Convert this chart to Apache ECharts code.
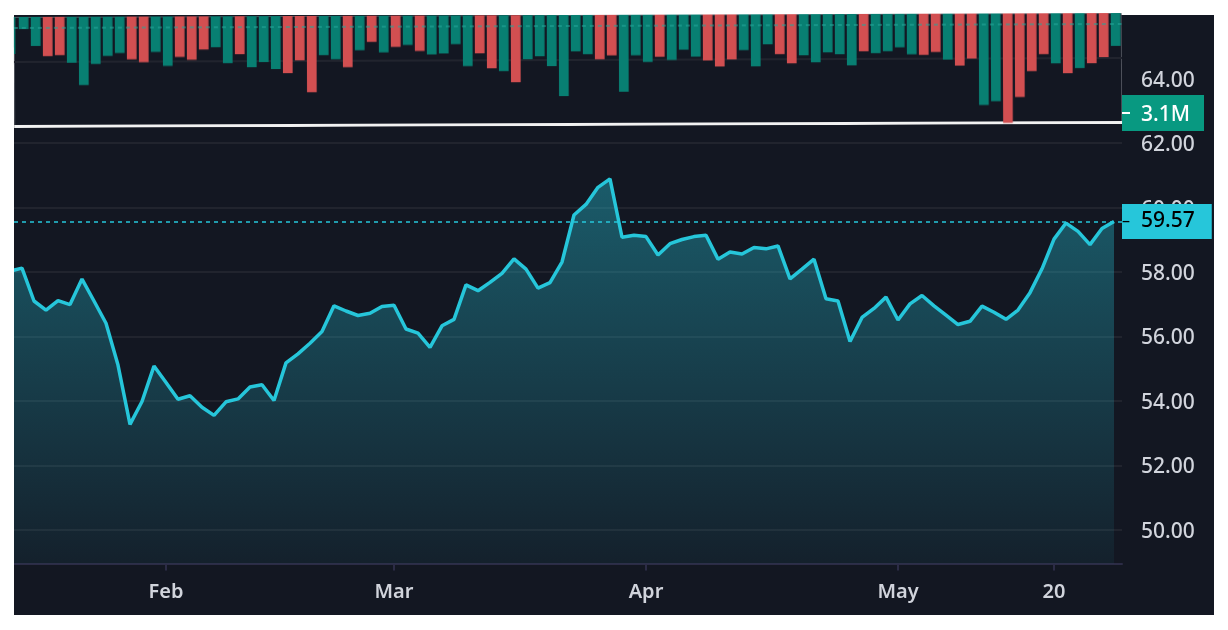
<!DOCTYPE html>
<html>
<head>
<meta charset="utf-8">
<style>
  html, body { margin: 0; padding: 0; background: #fff; }
  #main { position: absolute; left: 14px; top: 15px; width: 1200px; height: 600px; }
  /* the volume pane sits slightly tilted on top of the price pane */
  #vol { position: absolute; left: 14px; top: 15px; width: 1108px; height: 111px; transform: rotate(-0.207deg); }
</style>
</head>
<body>
<div id="main"></div>
<div id="vol"></div>
<script src="https://cdn.jsdelivr.net/npm/echarts@6/dist/echarts.min.js"></script>
<script>
var prices = [58.03,58.12,57.10,56.82,57.11,56.99,57.78,57.10,56.41,55.11,53.27,53.98,55.08,54.57,54.05,54.16,53.80,53.55,53.97,54.06,54.43,54.50,54.01,55.18,55.46,55.79,56.15,56.95,56.79,56.65,56.72,56.93,56.97,56.23,56.10,55.66,56.33,56.53,57.60,57.42,57.68,57.96,58.41,58.09,57.50,57.67,58.31,59.77,60.10,60.63,60.89,59.08,59.14,59.10,58.53,58.88,59.01,59.10,59.14,58.40,58.62,58.56,58.76,58.72,58.81,57.79,58.09,58.40,57.17,57.10,55.84,56.59,56.87,57.22,56.51,57.01,57.27,56.95,56.66,56.37,56.47,56.94,56.75,56.53,56.82,57.36,58.10,59.02,59.52,59.26,58.85,59.35,59.57];
// volume in millions, bars hang from the top of the pane
var volumes = [0.38,0.91,1.23,1.20,1.44,2.14,1.48,1.23,1.14,1.34,1.43,1.11,1.55,1.27,1.36,1.04,0.97,1.47,1.19,1.60,1.44,1.66,1.79,1.39,2.39,1.23,1.36,1.61,1.08,0.82,1.15,0.98,0.92,1.11,1.22,1.19,0.90,1.59,1.19,1.66,1.75,2.10,1.38,1.29,1.60,2.54,1.14,1.23,1.39,1.27,2.41,1.27,1.48,1.32,1.42,1.10,1.32,1.44,1.63,1.41,1.12,1.63,0.94,1.25,1.54,1.29,1.51,1.20,1.26,1.61,1.17,1.23,1.17,1.05,1.27,1.29,1.20,1.44,1.63,1.41,2.87,2.75,3.43,2.62,1.81,1.28,1.57,1.88,1.72,1.57,1.38,1.03];
var redBars = [2,3,9,10,13,14,15,18,22,23,24,27,29,31,33,38,39,41,48,49,53,57,58,59,63,64,70,75,76,78,79,82,83,84,85,87,89,90];
// the sliver of a bar cut off by the left edge of the pane
var edgeGap = [2.19];
var edgeBar = [1.16];
var priceTicks = [50,52,54,56,58,60,62,64];
var gridTicks = [50,52,54,56,58,60,62];
var timeTicks = [13,32,53,74,87];
var timeLabels = ["Feb","Mar","Apr","May","20"];
var lastPrice = 59.57;
var lastVolume = "3.1M";
var volGuide = 0.35;
var volGrid = [1.41];

var FONT = '"Noto Sans", sans-serif';
var BG = "#131722";
var CYAN = "#26C6DA";
var TEAL = "#087f72";
var RED = "#d24f51";

var mainChart = echarts.init(document.getElementById("main"));
mainChart.setOption({
  animation: false,
  backgroundColor: BG,
  textStyle: { fontFamily: FONT },
  grid: { left: 0, top: 0, width: 1108, height: 548.5 },
  xAxis: {
    type: "value", min: 1 / 3, max: 92.667,
    splitLine: { show: false },
    axisLine: { onZero: false, lineStyle: { color: "#2c2c46", width: 2 } },
    axisTick: { customValues: timeTicks, length: 7, lineStyle: { color: "#2c2c46", width: 2 } },
    axisLabel: {
      customValues: timeTicks, margin: 19, fontSize: 20, fontFamily: FONT, color: "#d1d4dc",
      fontWeight: 600,
      formatter: function (v) { return timeLabels[timeTicks.indexOf(v)]; }
    }
  },
  yAxis: {
    type: "value", position: "right", min: 48.95, max: 65.98,
    axisLine: { show: false },
    axisTick: { show: true, customValues: gridTicks, length: 0 },
    splitLine: { show: true, lineStyle: { color: "#21242e", width: 2 } },
    axisLabel: {
      customValues: priceTicks, margin: 19,
      formatter: function (v) { return "{p|" + v.toFixed(2) + "}"; },
      rich: { p: { fontSize: 21, fontFamily: FONT, color: "#d1d4dc", fontWeight: 500, padding: [4, 0, 0, 0] } }
    }
  },
  series: [{
    type: "line",
    data: prices.map(function (p, i) { return [i, p]; }),
    showSymbol: false,
    lineStyle: { color: CYAN, width: 3.5 },
    itemStyle: { color: CYAN },
    areaStyle: {
      color: { type: "linear", x: 0, y: 0, x2: 0, y2: 1, colorStops: [
        { offset: 0, color: "rgba(38,198,218,0.56)" },
        { offset: 1, color: "rgba(38,198,218,0.08)" }
      ] }
    },
    markLine: {
      silent: true, symbol: "none",
      lineStyle: { color: CYAN, type: [4, 4], width: 1.5 },
      label: {
        position: "end", distance: 0, backgroundColor: CYAN, padding: [5, 17, 5, 0],
        formatter: "{d|–}{t|" + lastPrice.toFixed(2) + "}",
        rich: {
          d: { width: 19, fontSize: 16, color: "#000", fontFamily: FONT, lineHeight: 25 },
          t: { fontSize: 21, color: "#000", fontFamily: FONT, fontWeight: 500, lineHeight: 25 }
        }
      },
      data: [{ yAxis: lastPrice }]
    }
  }],
  graphic: [{
    type: "group", x: 1108, y: 80, z: 50,
    children: [
      { type: "rect", shape: { x: 0, y: 0, width: 82, height: 36 }, style: { fill: "#089981" } },
      { type: "rect", shape: { x: 0, y: 17, width: 8, height: 2 }, style: { fill: "#fff" } },
      { type: "text", x: 19, y: 20, style: { text: lastVolume, fill: "#fff", font: "500 21px " + FONT, textVerticalAlign: "middle" } }
    ]
  }]
});

var volChart = echarts.init(document.getElementById("vol"));
volChart.setOption({
  animation: false,
  backgroundColor: BG,
  grid: { left: 0, right: 0, top: 0, bottom: 1.5, show: true, borderColor: "#8a8d94", borderWidth: 1, backgroundColor: "transparent" },
  xAxis: {
    type: "value", min: 1 / 3, max: 92.667, position: "bottom",
    splitLine: { show: false },
    axisLine: { onZero: false, lineStyle: { color: "#f2f2f2", width: 3 } },
    axisTick: { show: false }, axisLabel: { show: false }
  },
  yAxis: {
    type: "value", inverse: true, min: 0, max: 3.43,
    axisLine: { show: false }, axisLabel: { show: false },
    axisTick: { show: false, customValues: volGrid },
    splitLine: { show: true, lineStyle: { color: "#21242e", width: 2 } }
  },
  series: [{
    type: "bar",
    barWidth: 9.7,
    barGap: "-100%",
    data: volumes.map(function (v, k) {
      return { value: [k + 1.15, v], itemStyle: { color: redBars.indexOf(k) >= 0 ? RED : TEAL } };
    }),
    markLine: {
      silent: true, symbol: "none", label: { show: false },
      lineStyle: { color: "rgba(38,166,154,0.75)", type: [4, 4], width: 1.5 },
      data: [{ yAxis: volGuide }]
    }
  }, {
    type: "bar", stack: "edge", barWidth: 9.7, barGap: "-100%",
    itemStyle: { color: "transparent" },
    data: edgeGap.map(function (v) { return [0.05, v]; })
  }, {
    type: "bar", stack: "edge", barWidth: 9.7, barGap: "-100%",
    itemStyle: { color: TEAL },
    data: edgeBar.map(function (v) { return [0.05, v]; })
  }]
});
</script>
</body>
</html>
